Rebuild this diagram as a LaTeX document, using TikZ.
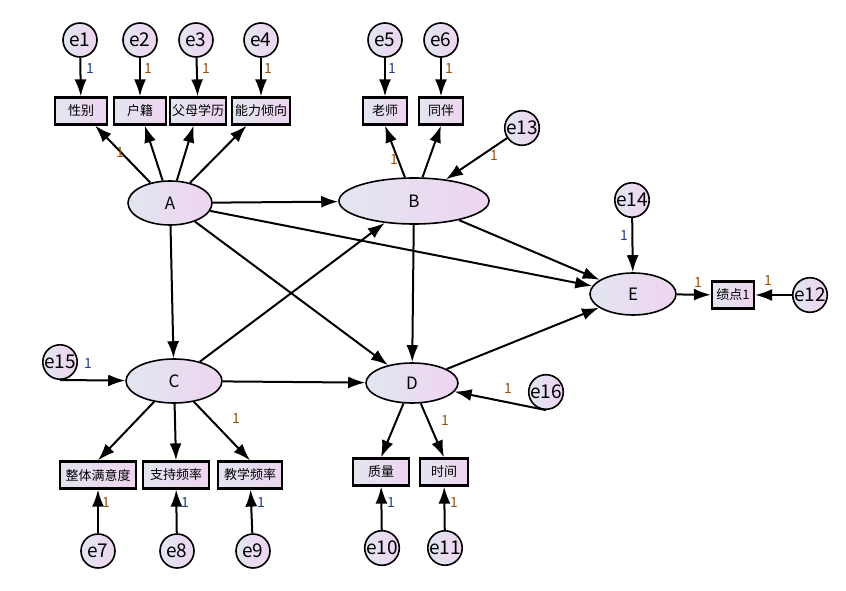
\documentclass[tikz,border=0pt]{standalone}
\usepackage{fontspec}
\setmainfont{Noto Sans CJK SC}
\usetikzlibrary{arrows.meta,positioning,shapes.geometric}
\definecolor{fillL}{RGB}{226,230,240}
\definecolor{fillR}{RGB}{238,212,240}
\definecolor{oneB}{RGB}{30,60,140}
\definecolor{oneO}{RGB}{150,80,10}
\begin{document}
\begin{tikzpicture}[x=1pt,y=-1pt,
	err/.style = {draw, circle, line width=1.6pt, minimum size=34pt, inner sep=0pt, left color=fillL, right color=fillR, font=\fontsize{19}{19}\selectfont},
	obs/.style = {draw, line width=2.2pt, minimum height=27pt, inner sep=2pt, left color=fillL, right color=fillR, font=\fontsize{13}{13}\selectfont},
	lat/.style = {draw, ellipse, line width=1.6pt, inner sep=0pt, left color=fillL, right color=fillR, font=\fontsize{17}{17}\selectfont},
	arr/.style = {-{Latex[length=17pt,width=12pt]}, line width=2pt},
	one/.style = {font=\fontsize{14}{14}\selectfont, text=oneB},
	oneo/.style = {font=\fontsize{14}{14}\selectfont, text=oneO}]
	\useasboundingbox (0,0) rectangle (846,591);
	% latent
	\node[lat, minimum width=84pt, minimum height=44pt] (A) at (170,203) {A};
	\node[lat, minimum width=150pt, minimum height=46pt] (B) at (414,201) {B};
	\node[lat, minimum width=96pt, minimum height=44pt] (C) at (174,381) {C};
	\node[lat, minimum width=92pt, minimum height=40pt] (D) at (412,383) {D};
	\node[lat, minimum width=86pt, minimum height=42pt] (E) at (633,294) {E};
	% observed
	\node[obs, minimum width=52pt] (o1) at (81,111) {性别};
	\node[obs, minimum width=52pt] (o2) at (140,111) {户籍};
	\node[obs, minimum width=56pt] (o3) at (198,111) {父母学历};
	\node[obs, minimum width=58pt] (o4) at (261,111) {能力倾向};
	\node[obs, minimum width=44pt] (o5) at (385,111) {老师};
	\node[obs, minimum width=44pt] (o6) at (441,111) {同伴};
	\node[obs, minimum width=76pt] (o7) at (98,475) {整体满意度};
	\node[obs, minimum width=66pt] (o8) at (176,475) {支持频率};
	\node[obs, minimum width=64pt] (o9) at (250,475) {教学频率};
	\node[obs, minimum width=56pt] (o10) at (381,472) {质量};
	\node[obs, minimum width=48pt] (o11) at (444,472) {时间};
	\node[obs, minimum width=42pt] (o12) at (733,295) {绩点1};
	% errors
	\node[err] (e1) at (80,40) {e1};
	\node[err] (e2) at (140,40) {e2};
	\node[err] (e3) at (196,40) {e3};
	\node[err] (e4) at (261,40) {e4};
	\node[err] (e5) at (385,40) {e5};
	\node[err] (e6) at (441,40) {e6};
	\node[err] (e7) at (98,551) {e7};
	\node[err] (e8) at (177,551) {e8};
	\node[err] (e9) at (253,551) {e9};
	\node[err] (e10) at (382,548) {e10};
	\node[err] (e11) at (445,548) {e11};
	\node[err] (e12) at (810,295) {e12};
	\node[err] (e13) at (522,128) {e13};
	\node[err] (e14) at (632,200) {e14};
	\node[err] (e15) at (60,362) {e15};
	\node[err] (e16) at (546,392) {e16};
	% error paths
	\foreach \i in {1,...,6} {\draw[arr] (e\i) -- (o\i);}
	\foreach \i in {7,...,11} {\draw[arr] (e\i) -- (o\i);}
	\draw[arr] (e12) -- (o12);
	\draw[arr] (e13) -- (B);
	\draw[arr] (e14) -- (E);
	\draw[arr] (e15.south) -- (C);
	\draw[arr] (e16.south) -- (D);
	% loadings
	\draw[arr] (A) -- (o1);
	\draw[arr] (A) -- (o2);
	\draw[arr] (A) -- (o3);
	\draw[arr] (A) -- (o4);
	\draw[arr] (B) -- (o5.south);
	\draw[arr] (B) -- (o6.south);
	\draw[arr] (C) -- (o7.north);
	\draw[arr] (C) -- (o8.north);
	\draw[arr] (C) -- (o9.north);
	\draw[arr] (D) -- (o10.north);
	\draw[arr] (D) -- (o11.north);
	\draw[arr] (E) -- (o12);
	% structural
	\draw[arr] (A) -- (B);
	\draw[arr] (A) -- (C);
	\draw[arr] (A) -- (D);
	\draw[arr] (A) -- (E);
	\draw[arr] (C) -- (B);
	\draw[arr] (C) -- (D);
	\draw[arr] (B) -- (D);
	\draw[arr] (B) -- (E);
	\draw[arr] (D) -- (E);
	% weights
	\foreach \x/\c in {90/one,148/oneo,206/oneo,268/oneo,392/one,449/oneo} {\node[\c] at (\x,69) {1};}
	\node[oneo] at (120,153) {1};
	\node[oneo] at (394,160) {1};
	\node[oneo] at (494,156) {1};
	\node[one] at (624,236) {1};
	\node[oneo] at (698,283) {1};
	\node[oneo] at (768,281) {1};
	\node[one] at (88,364) {1};
	\node[oneo] at (236,419) {1};
	\node[oneo] at (508,389) {1};
	\node[oneo] at (445,421) {1};
	\foreach \x/\c in {106/oneo,185/one,261/one,391/one,454/oneo} {\node[\c] at (\x,503) {1};}
\end{tikzpicture}
\end{document}
